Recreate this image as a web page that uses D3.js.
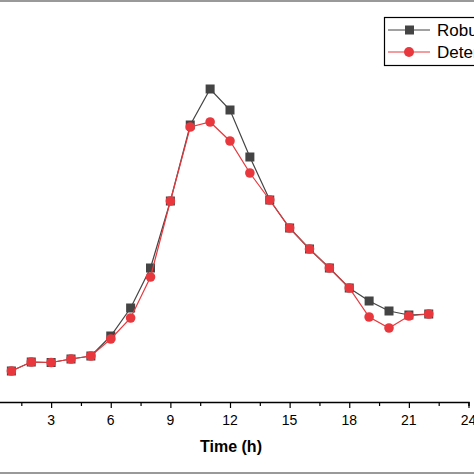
<!DOCTYPE html>
<html><head><meta charset="utf-8">
<script src="https://cdn.jsdelivr.net/npm/d3@7"></script>
<style>body{margin:0;background:#fff}svg{display:block}</style>
</head><body>
<script>
// Data (arbitrary units)
const hours = [1,2,3,4,5,6,7,8,9,10,11,12,13,14,15,16,17,18,19,20,21,22];
const robust = [31,40,39.5,43,46,66,94,134,201,277,313,292,245,202,174,153,134,114,101,91,87,88];
const deter  = [31,40,39.5,43,46,63,84,125,201,275,280,261,229,202,174,153,134,114,85,74,86,88];
const seriesNames = ["Robust", "Deterministic"];
const xTicks = [3,6,9,12,15,18,21,24];

const W = 474, H = 474;
const svg = d3.select("body").append("svg").attr("width", W).attr("height", H);
svg.append("rect").attr("width", W).attr("height", 2).attr("fill", "#999");
svg.append("rect").attr("y", H - 2).attr("width", W).attr("height", 2).attr("fill", "#999");

const x = d3.scaleLinear().domain([0, 24]).range([-8.5, 468.5]);
const y = d3.scaleLinear().domain([0, 400]).range([402, 2]);

// x axis
const ax = svg.append("g").attr("transform", "translate(0,402)")
  .call(d3.axisBottom(x).tickValues(d3.range(0, 24.1, 1.5)).tickSize(4).tickFormat(""));
ax.select(".domain").attr("stroke", "#000").attr("stroke-width", 1.5);
ax.selectAll(".tick line").attr("stroke", "#000").attr("stroke-width", 1.2)
  .attr("y2", d => xTicks.includes(d) ? 6 : 4);
svg.append("g").selectAll("text").data(xTicks).join("text")
  .attr("x", d => x(d)).attr("y", 425).attr("text-anchor", "middle")
  .attr("font-family", "Liberation Sans, Arial").attr("font-size", 14).text(d => d);
svg.append("text").attr("x", 231).attr("y", 452).attr("text-anchor", "middle")
  .attr("font-family", "Liberation Sans, Arial").attr("font-size", 16).attr("font-weight", "bold")
  .text("Time (h)");

const line = d3.line().x((d, i) => x(hours[i])).y(d => y(d));
const black = "#444", red = "#e8383d";

svg.append("path").datum(robust).attr("d", line).attr("fill", "none").attr("stroke", black).attr("stroke-width", 1.2);
svg.append("g").selectAll("rect").data(robust).join("rect")
  .attr("x", (d, i) => x(hours[i]) - 4.5).attr("y", d => y(d) - 4.5)
  .attr("width", 9).attr("height", 9).attr("fill", black);

svg.append("path").datum(deter).attr("d", line).attr("fill", "none").attr("stroke", red).attr("stroke-width", 1.2);
svg.append("g").selectAll("circle").data(deter).join("circle")
  .attr("cx", (d, i) => x(hours[i])).attr("cy", d => y(d)).attr("r", 4.8).attr("fill", red);

// legend
const lg = svg.append("g");
lg.append("rect").attr("x", 384.5).attr("y", 17.5).attr("width", 100).attr("height", 48)
  .attr("fill", "#fff").attr("stroke", "#000").attr("stroke-width", 1.2);
[[black, "sq"], [red, "ci"]].forEach(([c, m], i) => {
  const yy = 30 + i * 22;
  lg.append("line").attr("x1", 388).attr("x2", 430).attr("y1", yy).attr("y2", yy).attr("stroke", c).attr("stroke-width", 1.2);
  if (m === "sq") lg.append("rect").attr("x", 405).attr("y", yy - 4.5).attr("width", 9).attr("height", 9).attr("fill", c);
  else lg.append("circle").attr("cx", 409).attr("cy", yy).attr("r", 5).attr("fill", c);
  lg.append("text").attr("x", 437).attr("y", yy + 6).attr("font-family", "Liberation Sans, Arial")
    .attr("font-size", 17).text(seriesNames[i]);
});
</script>
</body></html>
